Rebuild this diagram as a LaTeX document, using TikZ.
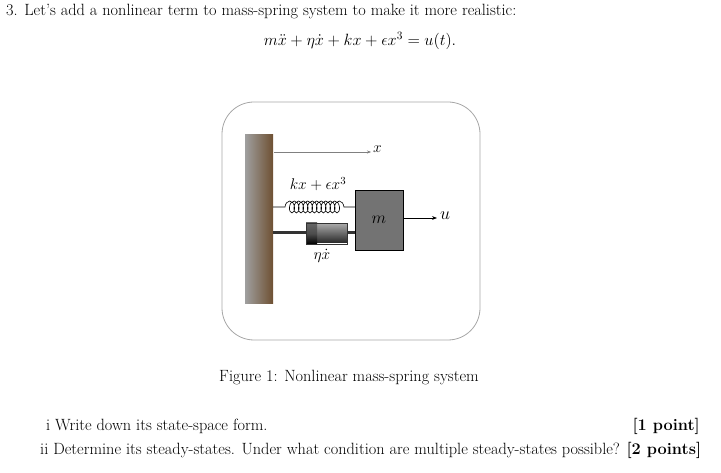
\documentclass[tikz,border=0pt]{standalone}
\usepackage{fix-cm}
\usepackage{fontspec}
\usetikzlibrary{decorations.pathmorphing,arrows.meta}
\definecolor{wallb}{RGB}{110,80,50}
\begin{document}
\begin{tikzpicture}[x=1pt,y=-1pt,
  txt/.style={inner sep=0pt,font=\fontsize{16.3}{19}\selectfont},
  lbl/.style={inner sep=1pt,font=\fontsize{15.5}{18}\selectfont}]
\useasboundingbox (0,0) rectangle (721,473);
\node[txt,anchor=west] (t) at (6,12) {3. Let's add a nonlinear term to mass-spring system to make it more realistic:};
\node[txt] (eq) at (360,41) {$m\ddot{x}+\eta\dot{x}+kx+\epsilon x^3=u(t).$};
\draw[gray!70,line width=0.8pt,rounded corners=32] (222,102) rectangle (480,340);
\shade[left color=gray!75,right color=wallb] (245,135) rectangle (273,304);
\coordinate (x0) at (274,152);
\coordinate (x1) at (371,152);
\draw[gray,-{Stealth[length=4pt]},thin] (x0) -- (x1);
\node[lbl,anchor=west] (xl) at (372,149) {$x$};
\node[fill=black!55,draw=black,minimum width=48,minimum height=60,inner sep=0pt] (m) at (379,220) {\fontsize{17}{19}\selectfont$m$};
\coordinate (s0) at (273,207);
\coordinate (s1) at (355,207);
\draw[line width=0.6pt] (s0) -- ++(10,0) -- ++(2,0) decorate[decoration={coil,aspect=0.6,segment length=4.5pt,amplitude=6pt}]{-- (347,207)} -- (s1);
\node[lbl] (kl) at (318,184) {$kx+\epsilon x^3$};
\coordinate (d0) at (273,233);
\draw[line width=3pt,black!80] (d0) -- (307,233);
\draw[line width=3pt,black!80] (346,233) -- (m.west|-d0);
\shade[top color=gray!70,bottom color=black!85,middle color=black!60] (306,224) rectangle (347,243);
\shade[top color=gray!80!black,bottom color=black,middle color=black!70] (306,223) rectangle (317,244);
\draw[black!80,thin] (306,223) rectangle (347,244);
\node[lbl] (el) at (322,256) {$\eta\dot{x}$};
\coordinate (u1) at (437,218);
\draw[-{Stealth[length=5pt]},line width=0.6pt] (m.east|-u1) -- (u1);
\node[lbl,anchor=west] (ul) at (439,216) {\fontsize{18}{20}\selectfont$u$};
\node[txt] (cap) at (349,378) {Figure 1: Nonlinear mass-spring system};
\node[txt,anchor=west] (i1) at (46,426) {i Write down its state-space form.};
\node[txt,anchor=east] (p1) at (700,426) {\textbf{[1 point]}};
\node[txt,anchor=west] (i2) at (40,450) {ii Determine its steady-states. Under what condition are multiple steady-states possible? \textbf{[2 points]}};
\end{tikzpicture}
\end{document}
